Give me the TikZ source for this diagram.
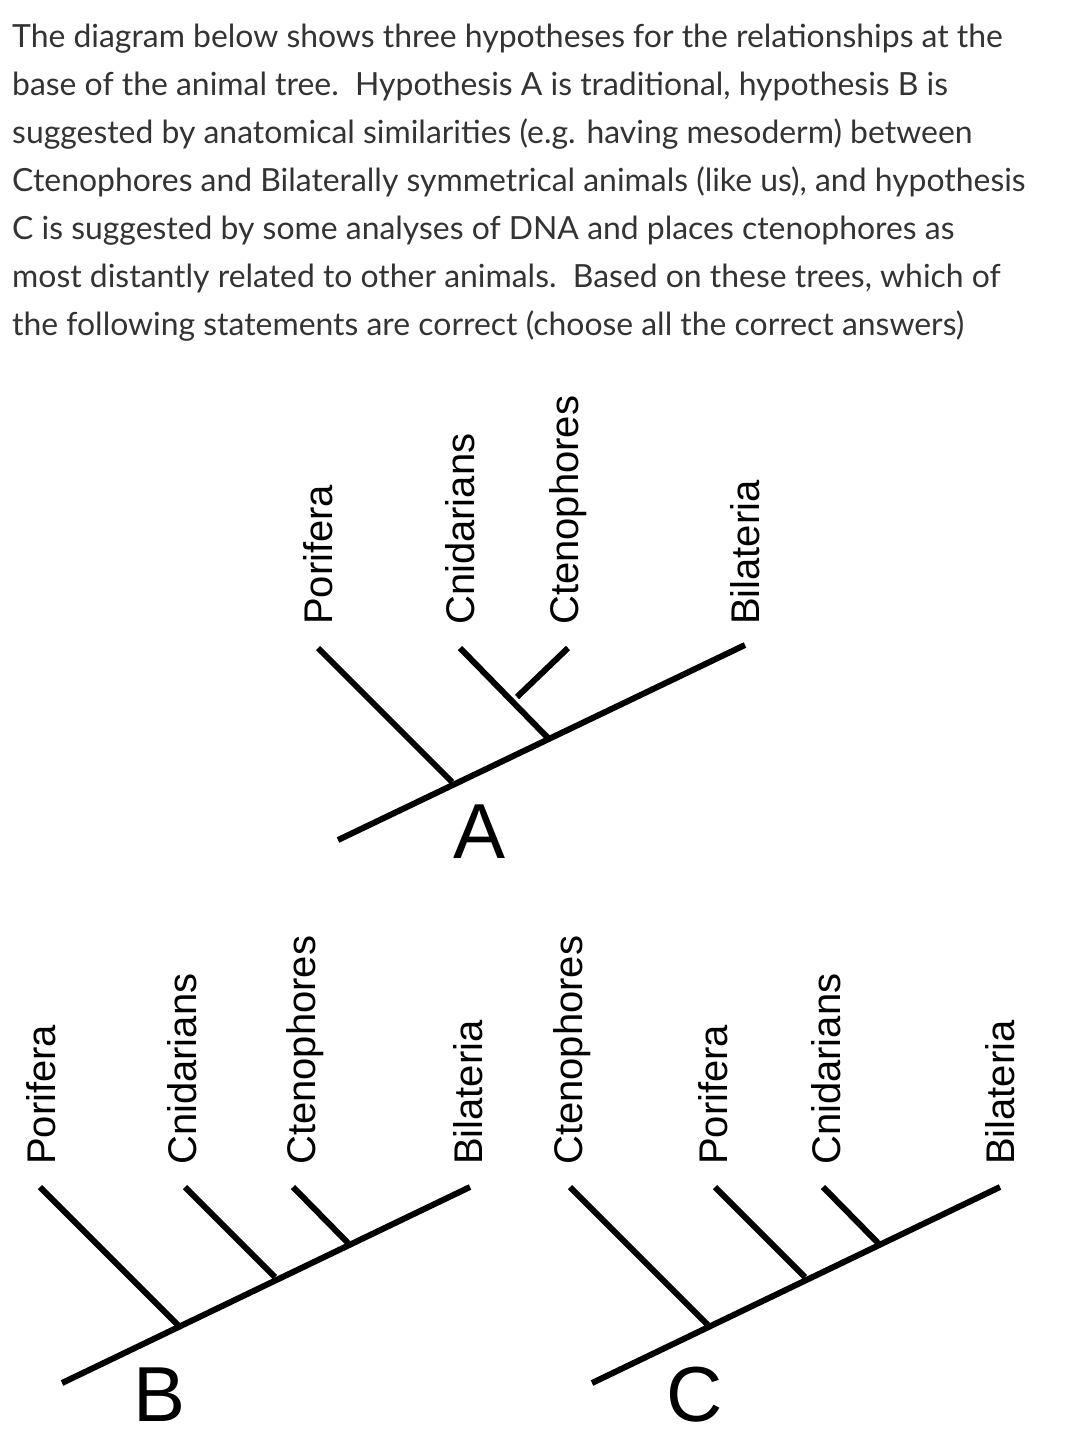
\documentclass[tikz,border=0pt]{standalone}
\usepackage{fontspec}
\setmainfont{Lato}
\newfontfamily\arial{Liberation Sans}
\begin{document}
\begin{tikzpicture}[x=1pt,y=-1pt,
 br/.style={line width=6pt},
 lab/.style={rotate=90,anchor=west,font=\arial\fontsize{40}{40}\selectfont,inner sep=0pt},
 big/.style={font=\arial\fontsize{78}{78}\selectfont,inner sep=0pt},
 txt/.style={anchor=base west,inner sep=0pt,font=\fontsize{31.9}{32}\selectfont,text=black!80}]
\useasboundingbox (0,0) rectangle (1068,1446);
\node[txt] (t1) at (12,47) {The diagram below shows three hypotheses for the relationships at the};
\node[txt] (t2) at (12,95) {base of the animal tree.\ \ Hypothesis A is traditional, hypothesis B is};
\node[txt] (t3) at (12,143) {suggested by anatomical similarities (e.g. having mesoderm) between};
\node[txt] (t4) at (12,191) {Ctenophores and Bilaterally symmetrical animals (like us), and hypothesis};
\node[txt] (t5) at (12,239) {C is suggested by some analyses of DNA and places ctenophores as};
\node[txt] (t6) at (12,287) {most distantly related to other animals.\ \ Based on these trees, which of};
\node[txt] (t7) at (12,335) {the following statements are correct (choose all the correct answers)};
% Tree A
\coordinate (ar) at (338,840); \coordinate (at) at (745,645);
\coordinate (a1) at (452,782); \coordinate (a2) at (548,738); \coordinate (a3) at (517,697);
\draw[br] (ar) -- (at);
\draw[br] (318,648) -- (a1);
\draw[br] (460,648) -- (a2);
\draw[br] (568,648) -- (a3);
\node[lab] (lA1) at (318,625) {Porifera};
\node[lab] (lA2) at (460,625) {Cnidarians};
\node[lab] (lA3) at (568,625) {Ctenophores};
\node[lab] (lA4) at (745,625) {Bilateria};
\node[big] (A) at (480,832) {A};
% Tree B
\draw[br] (62,1383) -- (470,1187);
\draw[br] (40,1187) -- (178,1325);
\draw[br] (185,1187) -- (275,1277);
\draw[br] (293,1187) -- (348,1243);
\node[lab] (lB1) at (41,1165) {Porifera};
\node[lab] (lB2) at (182,1165) {Cnidarians};
\node[lab] (lB3) at (305,1165) {Ctenophores};
\node[lab] (lB4) at (468,1165) {Bilateria};
\node[big] (B) at (160,1395) {B};
% Tree C
\draw[br] (592,1383) -- (1000,1187);
\draw[br] (570,1187) -- (708,1325);
\draw[br] (715,1187) -- (805,1277);
\draw[br] (823,1187) -- (878,1243);
\node[lab] (lC1) at (572,1165) {Ctenophores};
\node[lab] (lC2) at (713,1165) {Porifera};
\node[lab] (lC3) at (826,1165) {Cnidarians};
\node[lab] (lC4) at (1000,1165) {Bilateria};
\node[big] (C) at (695,1395) {C};
\end{tikzpicture}
\end{document}
